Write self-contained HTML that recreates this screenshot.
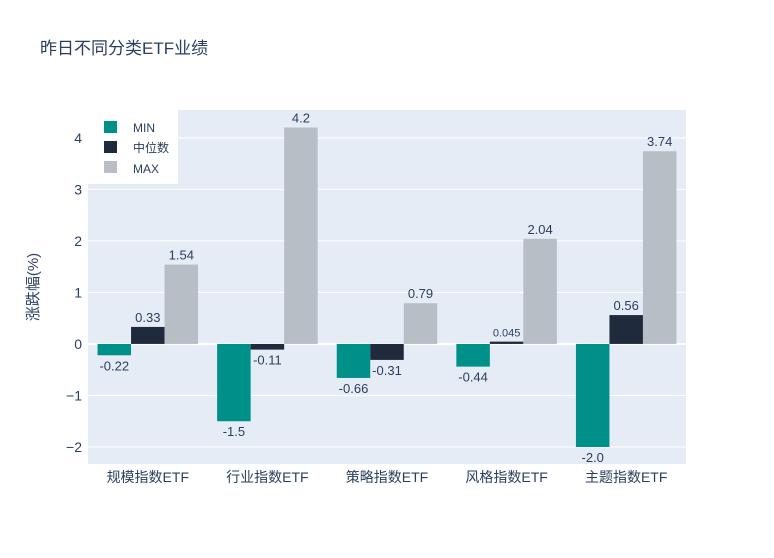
<!DOCTYPE html>
<html><head><meta charset="utf-8"><style>
body{margin:0;background:#fff;}
svg text{font-family:"Liberation Sans","Noto Sans CJK SC",sans-serif;}
</style></head><body>
<svg id="c" width="774" height="553" xmlns="http://www.w3.org/2000/svg">
<text x="40" y="54" font-size="17" fill="#2a3f5f">昨日不同分类ETF业绩</text>
<rect x="88" y="110" width="598" height="354" fill="#e5ecf6"/>
<g id="grid"></g><g id="bars"></g><g id="labels"></g><g id="ticks"></g>
<text transform="translate(38,287) rotate(-90)" text-anchor="middle" font-size="15" fill="#2a3f5f">涨跌幅(%)</text>
<g>
<rect x="88" y="110" width="90" height="74" fill="#fff"/>
<rect x="104" y="121" width="13" height="12" fill="#00908a"/>
<text x="133" y="132" font-size="12" fill="#2a3f5f">MIN</text>
<rect x="104" y="141" width="13" height="12" fill="#1f2a3c"/>
<text x="133" y="152" font-size="12" fill="#2a3f5f">中位数</text>
<rect x="104" y="161" width="13" height="12" fill="#b8bec6"/>
<text x="133" y="173" font-size="12" fill="#2a3f5f">MAX</text>
</g>
</svg>
<script>
const categories=["规模指数ETF","行业指数ETF","策略指数ETF","风格指数ETF","主题指数ETF"];
const minVals=[-0.22,-1.5,-0.66,-0.44,-2.0];
const medVals=[0.33,-0.11,-0.31,0.045,0.56];
const maxVals=[1.54,4.2,0.79,2.04,3.74];
const minLabels=["-0.22","-1.5","-0.66","-0.44","-2.0"];
const medLabels=["0.33","-0.11","-0.31","0.045","0.56"];
const maxLabels=["1.54","4.2","0.79","2.04","3.74"];
const yTicks=[-2,-1,0,1,2,3,4];
const yTickLabels=["−2","−1","0","1","2","3","4"];
const NS="http://www.w3.org/2000/svg";
const x0=88,pw=598,yTop=110,yBot=464,yMin=-2.33,yMax=4.54;
function y(v){return yBot-(v-yMin)/(yMax-yMin)*(yBot-yTop);}
const gw=pw/categories.length,bw=33.5;
function xb(i,s){return x0+i*gw+(gw-3*bw)/2+s*bw;}
function mk(tag,attrs,parent){const e=document.createElementNS(NS,tag);for(const k in attrs)e.setAttribute(k,attrs[k]);document.getElementById(parent).appendChild(e);return e;}
yTicks.forEach((t,i)=>{
  const l=mk('line',{x1:x0,x2:x0+pw,y1:y(t),y2:y(t),stroke:'#fff','stroke-width':t===0?2:1},'grid');
  
  
  const tx=mk('text',{x:x0-6,y:y(t)+5,'text-anchor':'end','font-size':14,fill:'#2a3f5f'},'ticks');
  tx.textContent=yTickLabels[i];
  
  
});
const series=[[minVals,minLabels,'#00908a','min'],[medVals,medLabels,'#1f2a3c','median'],[maxVals,maxLabels,'#b8bec6','max']];
categories.forEach((c,i)=>{
  series.forEach((s,si)=>{
    const v=s[0][i],xx=xb(i,si);
    const r=mk('rect',{x:xx,width:bw,y:Math.min(y(v),y(0)),height:Math.abs(y(v)-y(0)),fill:s[2]},'bars');
    
    
    const small=s[1][i]==="0.045";
    const t=mk('text',{x:xx+bw/2,y:v>=0?y(v)-5:y(v)+15,'text-anchor':'middle','font-size':small?11:13,fill:'#2a3f5f'},'labels');
    t.textContent=s[1][i];
    
    
  });
  const ct=mk('text',{x:x0+i*gw+gw/2,y:482,'text-anchor':'middle','font-size':14,fill:'#2a3f5f'},'ticks');
  ct.textContent=c;
  
  
});
</script>
</body></html>
